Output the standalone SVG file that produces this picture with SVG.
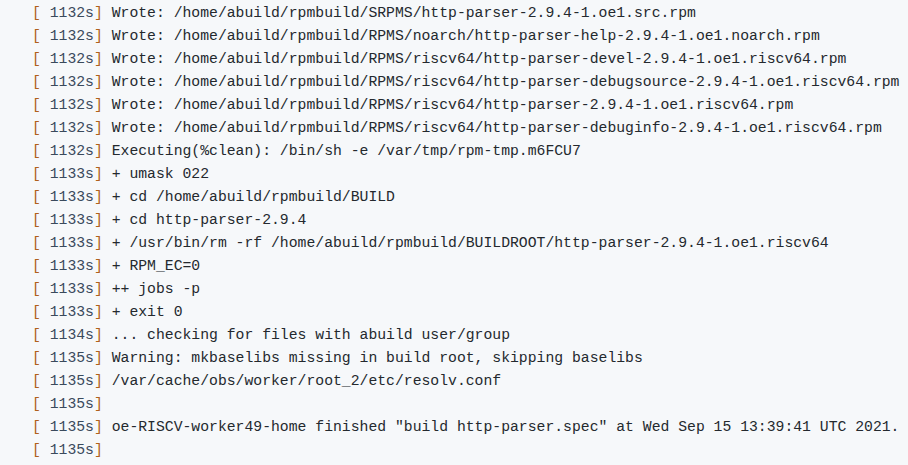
<svg xmlns="http://www.w3.org/2000/svg" width="908" height="465" viewBox="0 0 908 465">
<style>
text{font-family:"Liberation Mono","DejaVu Sans Mono",monospace;font-size:14.75px;fill:#24292e;white-space:pre}
.b{fill:#b0601c}.t{fill:#3a4a5c}
</style>
<rect width="908" height="465" fill="#f6f8fa"/>
<g id="log">
<text x="32" y="17"><tspan class="b">[</tspan> <tspan class="t">1132s</tspan><tspan class="b">]</tspan> Wrote: /home/abuild/rpmbuild/SRPMS/http-parser-2.9.4-1.oe1.src.rpm</text>
<text x="32" y="40"><tspan class="b">[</tspan> <tspan class="t">1132s</tspan><tspan class="b">]</tspan> Wrote: /home/abuild/rpmbuild/RPMS/noarch/http-parser-help-2.9.4-1.oe1.noarch.rpm</text>
<text x="32" y="63"><tspan class="b">[</tspan> <tspan class="t">1132s</tspan><tspan class="b">]</tspan> Wrote: /home/abuild/rpmbuild/RPMS/riscv64/http-parser-devel-2.9.4-1.oe1.riscv64.rpm</text>
<text x="32" y="86"><tspan class="b">[</tspan> <tspan class="t">1132s</tspan><tspan class="b">]</tspan> Wrote: /home/abuild/rpmbuild/RPMS/riscv64/http-parser-debugsource-2.9.4-1.oe1.riscv64.rpm</text>
<text x="32" y="109"><tspan class="b">[</tspan> <tspan class="t">1132s</tspan><tspan class="b">]</tspan> Wrote: /home/abuild/rpmbuild/RPMS/riscv64/http-parser-2.9.4-1.oe1.riscv64.rpm</text>
<text x="32" y="132"><tspan class="b">[</tspan> <tspan class="t">1132s</tspan><tspan class="b">]</tspan> Wrote: /home/abuild/rpmbuild/RPMS/riscv64/http-parser-debuginfo-2.9.4-1.oe1.riscv64.rpm</text>
<text x="32" y="155"><tspan class="b">[</tspan> <tspan class="t">1132s</tspan><tspan class="b">]</tspan> Executing(%clean): /bin/sh -e /var/tmp/rpm-tmp.m6FCU7</text>
<text x="32" y="178"><tspan class="b">[</tspan> <tspan class="t">1133s</tspan><tspan class="b">]</tspan> + umask 022</text>
<text x="32" y="201"><tspan class="b">[</tspan> <tspan class="t">1133s</tspan><tspan class="b">]</tspan> + cd /home/abuild/rpmbuild/BUILD</text>
<text x="32" y="224"><tspan class="b">[</tspan> <tspan class="t">1133s</tspan><tspan class="b">]</tspan> + cd http-parser-2.9.4</text>
<text x="32" y="247"><tspan class="b">[</tspan> <tspan class="t">1133s</tspan><tspan class="b">]</tspan> + /usr/bin/rm -rf /home/abuild/rpmbuild/BUILDROOT/http-parser-2.9.4-1.oe1.riscv64</text>
<text x="32" y="270"><tspan class="b">[</tspan> <tspan class="t">1133s</tspan><tspan class="b">]</tspan> + RPM_EC=0</text>
<text x="32" y="293"><tspan class="b">[</tspan> <tspan class="t">1133s</tspan><tspan class="b">]</tspan> ++ jobs -p</text>
<text x="32" y="316"><tspan class="b">[</tspan> <tspan class="t">1133s</tspan><tspan class="b">]</tspan> + exit 0</text>
<text x="32" y="339"><tspan class="b">[</tspan> <tspan class="t">1134s</tspan><tspan class="b">]</tspan> ... checking for files with abuild user/group</text>
<text x="32" y="362"><tspan class="b">[</tspan> <tspan class="t">1135s</tspan><tspan class="b">]</tspan> Warning: mkbaselibs missing in build root, skipping baselibs</text>
<text x="32" y="385"><tspan class="b">[</tspan> <tspan class="t">1135s</tspan><tspan class="b">]</tspan> /var/cache/obs/worker/root_2/etc/resolv.conf</text>
<text x="32" y="408"><tspan class="b">[</tspan> <tspan class="t">1135s</tspan><tspan class="b">]</tspan></text>
<text x="32" y="431"><tspan class="b">[</tspan> <tspan class="t">1135s</tspan><tspan class="b">]</tspan> oe-RISCV-worker49-home finished "build http-parser.spec" at Wed Sep 15 13:39:41 UTC 2021.</text>
<text x="32" y="454"><tspan class="b">[</tspan> <tspan class="t">1135s</tspan><tspan class="b">]</tspan></text>
</g>
</svg>
